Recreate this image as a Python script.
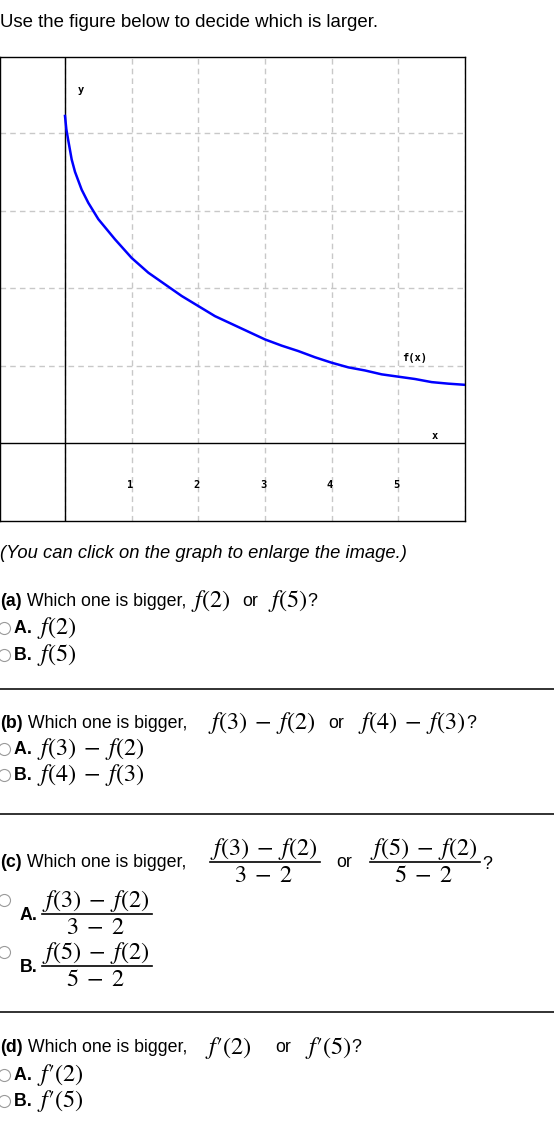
import numpy as np, matplotlib.pyplot as plt

plt.rcParams["mathtext.fontset"]="stix"
plt.rcParams["font.family"]=["Liberation Sans","DejaVu Sans"]

# curve
xs=[0,0.02,0.05,0.1,0.15,0.25,0.35,0.5,0.75,1,1.25,1.5,1.75,2,2.25,2.5,2.75,3,3.25,3.5,3.75,4,4.25,4.5,4.75,5,5.25,5.5,5.75,6]
ys=[4.22,4.05,3.9,3.66,3.5,3.27,3.1,2.89,2.63,2.39,2.2,2.05,1.9,1.77,1.64,1.54,1.44,1.34,1.26,1.19,1.11,1.04,0.98,0.94,0.89,0.86,0.83,0.79,0.77,0.755]
ticks=[1,2,3,4,5]

W,H=554,1122
fig=plt.figure(figsize=(W/100,H/100),dpi=100)
rend=fig.canvas.get_renderer()

pg=fig.add_axes([0,0,1,1]); pg.set_xlim(0,W); pg.set_ylim(H,0); pg.axis("off")

ax=fig.add_axes([0,(H-521)/H,465/W,(521-57)/H])
ax.set_xlim(-0.975,6); ax.set_ylim(-1,4.98)
for v in range(0,7): ax.axvline(v,color="#c8c8c8",lw=1,ls=(0,(4,3)),zorder=0)
for v in range(1,5): ax.axhline(v,color="#c8c8c8",lw=1,ls=(0,(4,3)),zorder=0)
ax.axvline(0,color="k",lw=1); ax.axhline(0,color="k",lw=1)
ax.plot(xs,ys,color="#0000ff",lw=1.8)
ax.set_xticks([]); ax.set_yticks([])
for s in ax.spines.values(): s.set_linewidth(1)
mono=dict(family="DejaVu Sans Mono",fontsize=7.5,fontweight="bold",ha="center",va="center")
for t in ticks: ax.text(t-0.03,-0.53,str(t),**mono)
ax.text(0.24,4.55,"y",**mono); ax.text(5.25,1.1,"f(x)",**mono); ax.text(5.55,0.09,"x",**mono)

fs=12.8; ms=17.5
def line(x,y,parts):
    # parts placed one after another; kind "x" jumps to an absolute x
    for s,k in parts:
        if k=="x": x=s; continue
        kw=dict(fontsize=fs)
        if k=="b": kw["fontweight"]="bold"
        if k=="i": kw["style"]="italic"; kw["fontsize"]=13.2
        if k=="h": kw["fontsize"]=13.4
        if k=="m": kw["fontsize"]=ms
        t=pg.text(x,y,s,ha="left",va="center",**kw)
        x+=t.get_window_extent(rend).width
    return x
def frac(x,y,num,den):
    # y is the fraction bar
    t=pg.text(x,y-13,num,ha="left",va="center",fontsize=ms)
    w=t.get_window_extent(rend).width
    pg.text(x+w/2,y+14,den,ha="center",va="center",fontsize=ms)
    pg.plot([x,x+w+2],[y,y],color="k",lw=1.2)
    return x+w
def radio(y):
    pg.scatter([4],[y],s=75,facecolor="white",edgecolor="#9a9a9a",lw=0.8,zorder=3)

M=lambda s:(s,"m")
line(0,22,[("Use the figure below to decide which is larger.","h")])
line(0,553,[("(You can click on the graph to enlarge the image.)","i")])

line(0,601,[("(a)","b"),(" Which one is bigger, ","t"),(191,"x"),M("$f(2)$"),(242,"x"),("or","t"),(268,"x"),M("$f(5)$"),("?","t")])
for y,l,m in [(628,"A.","$f(2)$"),(655,"B.","$f(5)$")]:
    radio(y); line(14,y,[(l+" ","b"),M(m)])

for y in [689,814,1012]: pg.plot([0,W],[y,y],color="#222222",lw=1.3)

d3,d4=r"$f(3)\;-\;f(2)$",r"$f(4)\;-\;f(3)$"
line(0,723,[("(b)","b"),(" Which one is bigger, ","t"),(208,"x"),M(d3),(328,"x"),("or","t"),(358,"x"),M(d4),("?","t")])
for y,l,m in [(749,"A.",d3),(775,"B.",d4)]:
    radio(y); line(14,y,[(l+" ","b"),M(m)])

n32,d32=r"$f(3)\;-\;f(2)$",r"$3\;-\;2$"
n52,d52=r"$f(5)\;-\;f(2)$",r"$5\;-\;2$"
line(0,862,[("(c)","b"),(" Which one is bigger,","t")])
frac(210,862,n32,d32); line(336,862,[("or","t")])
e=frac(370,862,n52,d52); line(e+4,864,[("?","t")])
for y,l,n,d in [(914,"A.",n32,d32),(966,"B.",n52,d52)]:
    radio(y-14); line(20,y+1,[(l,"b")]); frac(42,y,n,d)

fp2,fp5=r"$f\prime(2)$",r"$f\prime(5)$"
line(0,1048,[("(d)","b"),(" Which one is bigger, ","t"),(205,"x"),M(fp2),(275,"x"),("or","t"),(305,"x"),M(fp5),("?","t")])
for y,l,m in [(1075,"A.",fp2),(1101,"B.",fp5)]:
    radio(y); line(14,y,[(l+" ","b"),M(m)])

fig.savefig("out.png",dpi=100)
